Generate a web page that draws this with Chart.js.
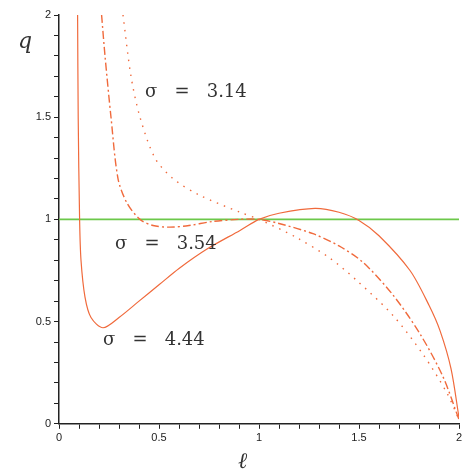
<!DOCTYPE html>
<html>
<head>
<meta charset="utf-8">
<script src="https://cdn.jsdelivr.net/npm/chart.js@4"></script>
<style>
  html, body { margin: 0; padding: 0; background: #fff; }
  #wrap { width: 474px; height: 474px; }
</style>
</head>
<body>
<div id="wrap"><canvas id="c" width="474" height="474"></canvas></div>
<script>
// curve sigma = 4.44 (solid)
const s444X = [0.093,0.096,0.103,0.11,0.13,0.16,0.22,0.3,0.4,0.5,0.6,0.74,0.905,1.0,1.1,1.28,1.4,1.5,1.6,1.755,1.85,1.905,1.96,2.0];
const s444Y = [2.0,1.5,1.0,0.8,0.62,0.52,0.47,0.52,0.60,0.68,0.76,0.855,0.946,1.0,1.03,1.054,1.035,0.995,0.92,0.75,0.58,0.456,0.27,0.03];
// curve sigma = 3.54 (dash-dot)
const s354X = [0.213,0.23,0.26,0.295,0.34,0.405,0.47,0.555,0.65,0.77,0.9,1.0,1.1,1.27,1.4,1.52,1.67,1.805,1.92,2.0];
const s354Y = [2.0,1.8,1.5,1.2,1.08,1.0,0.97,0.962,0.97,0.99,1.0,1.0,0.98,0.93,0.87,0.79,0.63,0.44,0.23,0.02];
// curve sigma = 3.14 (dotted)
const s314X = [0.32,0.36,0.405,0.48,0.57,0.7,0.905,1.0,1.19,1.355,1.49,1.67,1.82,1.94,2.0];
const s314Y = [2.0,1.7,1.5,1.3,1.2,1.12,1.035,1.0,0.91,0.81,0.70,0.53,0.34,0.15,0.02];
// reference line q = 1
const refX = [0, 2];
const refY = [1, 1];

const labels = [
  { text: "\u03c3   =   3.14", x: 0.43, y: 1.62 },
  { text: "\u03c3   =   3.54", x: 0.28, y: 0.88 },
  { text: "\u03c3   =   4.44", x: 0.22, y: 0.41 }
];

const pts = (xs, ys) => xs.map((x, i) => ({ x, y: ys[i] }));
const orange = "#f06a3c";

const textPlugin = {
  id: "texts",
  afterDraw(chart) {
    const { ctx, scales } = chart;
    ctx.save();
    ctx.fillStyle = "#333";
    ctx.font = "18px 'DejaVu Serif', serif";
    ctx.textBaseline = "middle";
    labels.forEach(l => ctx.fillText(l.text, scales.x.getPixelForValue(l.x), scales.y.getPixelForValue(l.y)));
    ctx.font = "italic 22px 'DejaVu Serif', serif";
    ctx.fillText("q", 18, 42);
    ctx.fillText("\u2113", 238, 462);
    ctx.restore();
  }
};

const tickCb = v => (Math.abs(v * 2 - Math.round(v * 2)) < 1e-6 ? String(+v.toFixed(1)) : "");

new Chart(document.getElementById("c"), {
  type: "scatter",
  data: {
    datasets: [
      { data: pts(s444X, s444Y), borderColor: orange, borderWidth: 1.2 },
      { data: pts(s354X, s354Y), borderColor: orange, borderWidth: 1.4, borderDash: [8, 3, 2, 3] },
      { data: pts(s314X, s314Y), borderColor: orange, borderWidth: 1.4, borderDash: [1.5, 6] },
      { data: pts(refX, refY), borderColor: "#6cc84a", borderWidth: 1.6 }
    ].map(d => Object.assign({ showLine: true, pointRadius: 0, tension: 0.3 }, d))
  },
  options: {
    responsive: false,
    animation: false,
    layout: { padding: { top: 15, right: 15, bottom: 26, left: 0 } },
    plugins: { legend: { display: false }, tooltip: { enabled: false } },
    scales: {
      x: {
        type: "linear", min: 0, max: 2,
        border: { color: "#222", width: 1.5 },
        grid: { drawOnChartArea: false, color: "#222", tickLength: 5 },
        ticks: { stepSize: 0.1, autoSkip: false, maxRotation: 0, callback: tickCb, color: "#222", font: { size: 11 } }
      },
      y: {
        type: "linear", min: 0, max: 2,
        afterFit: s => { s.width = 59; },
        border: { color: "#222", width: 1.5 },
        grid: { drawOnChartArea: false, color: "#222", tickLength: 5 },
        ticks: { stepSize: 0.1, autoSkip: false, callback: tickCb, color: "#222", font: { size: 11 } }
      }
    }
  },
  plugins: [textPlugin]
});
</script>
</body>
</html>
